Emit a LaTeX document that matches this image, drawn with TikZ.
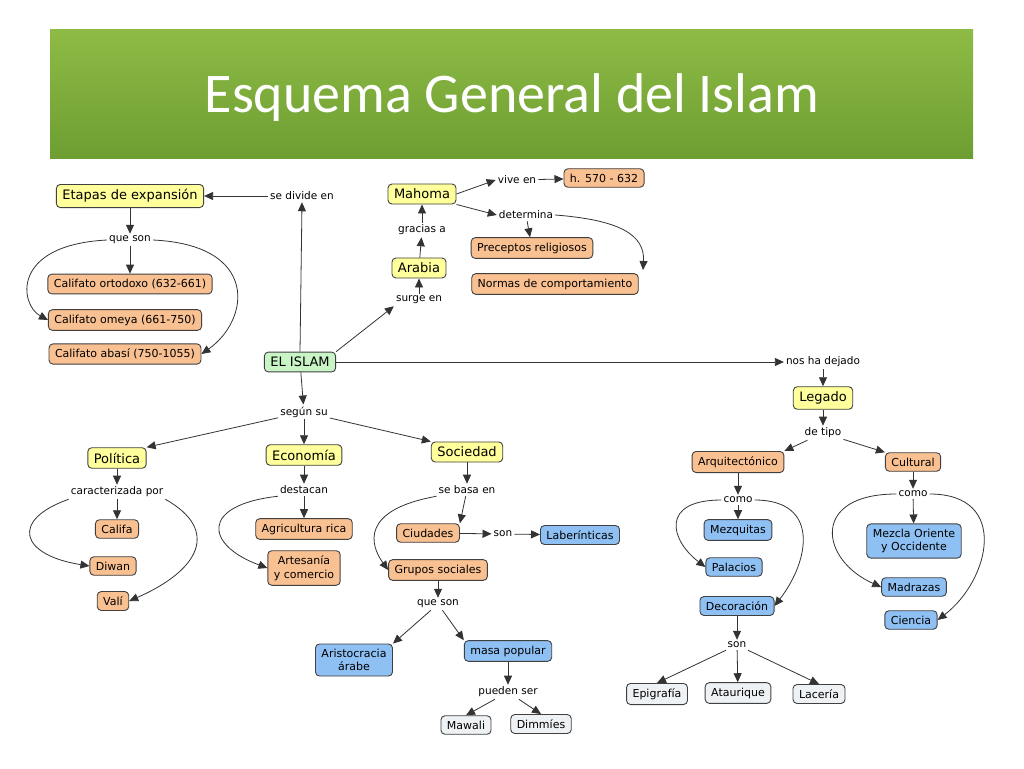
\documentclass[tikz,border=0pt]{standalone}
\usepackage{fontspec}
\setmainfont{DejaVu Sans}
\newfontfamily\titlefont{Carlito}
\usetikzlibrary{arrows.meta}
\definecolor{cy}{HTML}{FFFF9C}
\definecolor{co}{HTML}{F9C091}
\definecolor{cb}{HTML}{8EC0F3}
\definecolor{cw}{HTML}{EEF2F5}
\definecolor{cg}{HTML}{C8F4C6}
\definecolor{hg1}{HTML}{8DBB45}
\definecolor{hg2}{HTML}{6E9E32}
\begin{document}
\begin{tikzpicture}[x=1pt,y=-1pt,
 box/.style={draw=black!75,line width=0.9pt,rounded corners=4pt,font=\fontsize{11}{13.5}\selectfont,inner xsep=6pt,inner ysep=5pt,align=center},
 Y/.style={box,fill=cy,font=\fontsize{13}{15}\selectfont},
 O/.style={box,fill=co},
 B/.style={box,fill=cb},
 W/.style={box,fill=cw},
 G/.style={box,fill=cg,font=\fontsize{13}{15}\selectfont},
 lbl/.style={font=\fontsize{10.5}{12}\selectfont,inner sep=2pt,fill=white},
 ar/.style={-{Triangle[length=9pt,width=8pt]},line width=0.8pt,black!80},
 ln/.style={line width=0.8pt,black!70}]
\useasboundingbox (0,0) rectangle (1024,768);
\shade[top color=hg1,bottom color=hg2] (50,30) rectangle (973,158);
\node[font=\titlefont\fontsize{56}{60}\selectfont,text=white] (title) at (512,98) {Esquema General del Islam};
% nodes
\node[Y] (etapas) at (130,196) {Etapas de expansión};
\node[lbl] (divide) at (302,196) {se divide en};
\node[Y] (mahoma) at (422,194) {Mahoma};
\node[lbl] (vive) at (517,180) {vive en};
\node[O] (fecha) at (604,178) {h. 570 - 632};
\node[lbl] (determina) at (526,215) {determina};
\node[O] (preceptos) at (532,248) {Preceptos religiosos};
\node[O] (normas) at (555,284) {Normas de comportamiento};
\node[lbl] (gracias) at (422,230) {gracias a};
\node[Y] (arabia) at (419,268) {Arabia};
\node[lbl] (surge) at (419,300) {surge en};
\node[lbl] (queson1) at (130,240) {que son};
\node[O] (orto) at (130,284) {Califato ortodoxo (632-661)};
\node[O] (omeya) at (125,320) {Califato omeya (661-750)};
\node[O] (abasi) at (125,354) {Califato abasí (750-1055)};
\node[G] (islam) at (300,362) {EL ISLAM};
\node[lbl] (nos) at (823,362) {nos ha dejado};
\node[Y] (legado) at (823,398) {Legado};
\node[lbl] (tipo) at (823,433) {de tipo};
\node[O] (arq) at (738,462) {Arquitectónico};
\node[O] (cult) at (913,462) {Cultural};
\node[lbl] (como1) at (738,500) {como};
\node[lbl] (como2) at (913,494) {como};
\node[B] (mezq) at (738,530) {Mezquitas};
\node[B] (pal) at (734,567) {Palacios};
\node[B] (deco) at (737,606) {Decoración};
\node[lbl] (son2) at (737,645) {son};
\node[W] (epi) at (657,694) {Epigrafía};
\node[W] (ata) at (738,693) {Ataurique};
\node[W] (lac) at (819,694) {Lacería};
\node[B] (mezcla) at (914,541) {Mezcla Oriente\\y Occidente};
\node[B] (madr) at (914,587) {Madrazas};
\node[B] (cien) at (911,620) {Ciencia};
\node[lbl] (segun) at (304,412) {según su};
\node[Y] (pol) at (117,458) {Política};
\node[Y] (eco) at (304,455) {Economía};
\node[Y] (soc) at (467,452) {Sociedad};
\node[lbl] (carac) at (117,492) {caracterizada por};
\node[O] (califa) at (117,529) {Califa};
\node[O] (diwan) at (113,566) {Diwan};
\node[O] (vali) at (113,601) {Valí};
\node[lbl] (dest) at (304,490) {destacan};
\node[O] (agri) at (304,529) {Agricultura rica};
\node[O] (arte) at (304,568) {Artesanía\\y comercio};
\node[lbl] (basa) at (467,490) {se basa en};
\node[O] (ciud) at (428,533) {Ciudades};
\node[lbl] (son1) at (503,534) {son};
\node[B] (lab) at (580,535) {Laberínticas};
\node[O] (grupos) at (438,570) {Grupos sociales};
\node[lbl] (queson2) at (438,604) {que son};
\node[B] (aris) at (354,660) {Aristocracia\\árabe};
\node[B] (masa) at (508,651) {masa popular};
\node[lbl] (pueden) at (508,692) {pueden ser};
\node[W] (mawali) at (466,725) {Mawali};
\node[W] (dimm) at (541,724) {Dimmíes};
% connectors
\draw[ar] (islam.north) -- (divide.south);
\draw[ar] (divide) -- (etapas);
\draw[ar] (etapas) -- (queson1);
\draw[ar] (queson1) -- (orto);
\draw[ar] (queson1.west) .. controls (10,245) and (20,305) .. (omeya.west);
\draw[ar] (queson1.east) .. controls (260,245) and (250,320) .. (abasi.east);
\draw[ar] (islam.north east) -- (surge.south west);
\draw[ar] (surge) -- (arabia);
\draw[ar] (arabia) -- (gracias);
\draw[ar] (gracias) -- (mahoma);
\draw[ar] (mahoma.east) -- (vive.west);
\draw[ar] (vive) -- (fecha);
\draw[ar] (mahoma.south east) -- (determina.west);
\draw[ar] (determina) -- (preceptos);
\draw[ar] (determina.east) .. controls (620,220) and (645,235) .. (643,270);
\draw[ar] (islam) -- (nos);
\draw[ar] (nos) -- (legado);
\draw[ar] (legado) -- (tipo);
\draw[ar] (tipo) -- (arq.north east);
\draw[ar] (tipo) -- (cult.north west);
\draw[ar] (arq) -- (como1);
\draw[ar] (como1) -- (mezq);
\draw[ar] (como1.west) .. controls (660,500) and (670,540) .. (pal.west);
\draw[ar] (como1.east) .. controls (820,500) and (810,560) .. (deco.east);
\draw[ar] (deco) -- (son2);
\draw[ar] (son2) -- (epi.north);
\draw[ar] (son2) -- (ata);
\draw[ar] (son2) -- (lac.north);
\draw[ar] (cult) -- (como2);
\draw[ar] (como2) -- (mezcla);
\draw[ar] (como2.west) .. controls (810,494) and (820,560) .. (madr.west);
\draw[ar] (como2.east) .. controls (1010,494) and (990,580) .. (cien.east);
\draw[ar] (islam) -- (segun);
\draw[ar] (segun) -- (pol.north east);
\draw[ar] (segun) -- (eco);
\draw[ar] (segun) -- (soc.north west);
\draw[ar] (pol) -- (carac);
\draw[ar] (carac) -- (califa);
\draw[ar] (carac.south west) .. controls (10,520) and (20,555) .. (diwan.west);
\draw[ar] (carac.south east) .. controls (220,530) and (200,570) .. (vali.east);
\draw[ar] (dest) ++(0,0) (eco) -- (dest);
\draw[ar] (dest) -- (agri);
\draw[ar] (dest.south west) .. controls (200,505) and (205,545) .. (arte.west);
\draw[ar] (soc) -- (basa);
\draw[ar] (basa) -- (ciud.north east);
\draw[ar] (basa.south west) .. controls (360,510) and (370,545) .. (grupos.west);
\draw[ar] (ciud) -- (son1);
\draw[ar] (son1) -- (lab);
\draw[ar] (grupos) -- (queson2);
\draw[ar] (queson2) -- (aris.north east);
\draw[ar] (queson2) -- (masa.north west);
\draw[ar] (masa) -- (pueden);
\draw[ar] (pueden) -- (mawali.north);
\draw[ar] (pueden) -- (dimm.north);
\end{tikzpicture}
\end{document}
